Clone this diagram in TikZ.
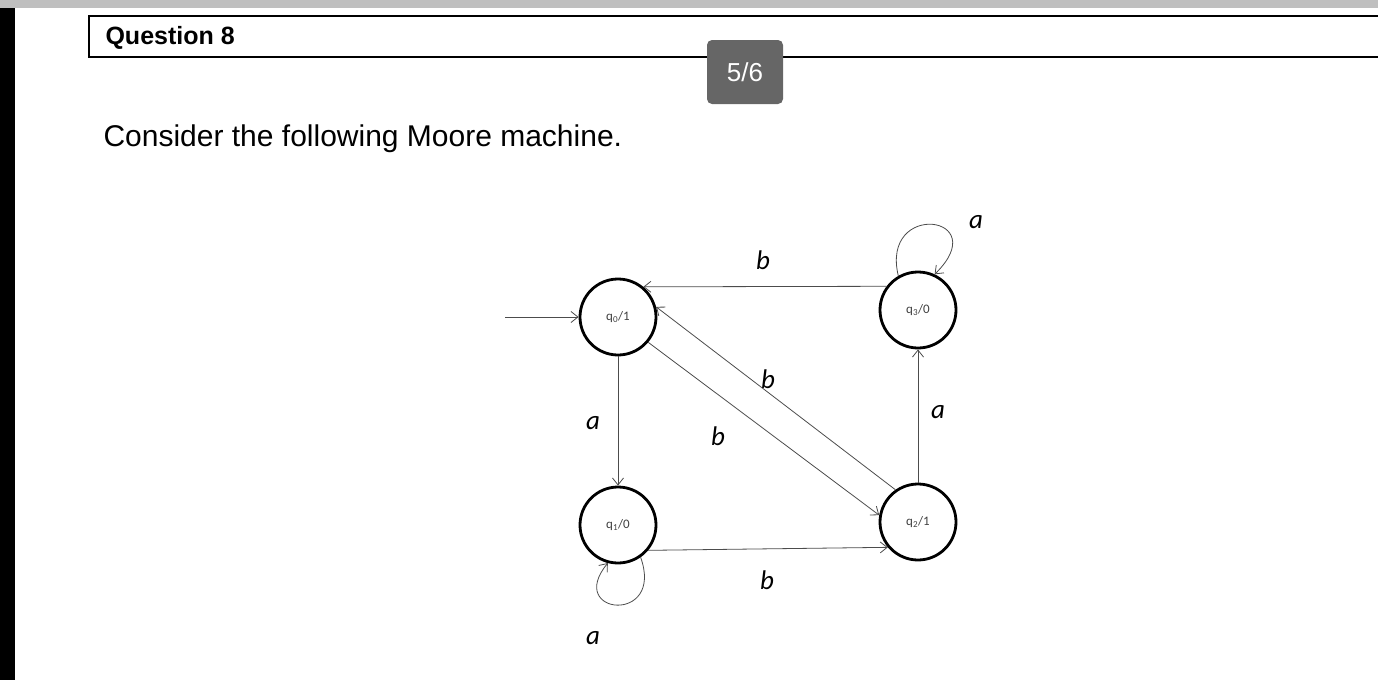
\documentclass[tikz,border=0pt]{standalone}
\usepackage{fontspec}
\setmainfont{Liberation Sans}
\newfontfamily\lbl{Carlito}
\usetikzlibrary{arrows.meta}
\begin{document}
\begin{tikzpicture}[x=1pt,y=-1pt,
 st/.style={circle,draw,line width=2.8pt,minimum size=76pt,inner sep=0pt,font=\fontsize{13}{15}\selectfont\lbl,text=black!75},
 ed/.style={draw=black!70,line width=0.8pt,-{Straight Barb[length=7pt,width=11pt]}},
 lb/.style={font=\fontsize{27}{30}\selectfont\lbl\itshape}]
\useasboundingbox (0,0) rectangle (1378,680);
\fill[black!25] (0,0) rectangle (1378,8);
\fill[black] (0,8) rectangle (15,680);
\draw[line width=1.2pt] (1380,16) -- (89,16) -- (89,57) -- (1380,57);
\node[anchor=west,font=\fontsize{25}{28}\selectfont\bfseries] (title) at (102,38) {Question 8};
\node[fill=black!60,rounded corners=5pt,minimum width=76pt,minimum height=64pt,text=white,font=\fontsize{26}{30}\selectfont] (badge) at (745,72) {5/6};
\node[anchor=west,font=\fontsize{30}{34}\selectfont] (intro) at (100,139) {Consider the following Moore machine.};
\node[st] (q0) at (618,317) {q\textsubscript{0}/1};
\node[st] (q3) at (918,310) {q\textsubscript{3}/0};
\node[st] (q1) at (618,525) {q\textsubscript{1}/0};
\node[st] (q2) at (918,522) {q\textsubscript{2}/1};
\coordinate (init) at (505,317);
\draw[ed] (init) -- (q0);
\draw[ed] (q3.143) -- (q0.50);
\draw[ed] (q0) -- (q1);
\draw[ed] (q1.-40) -- (q2.-140);
\draw[ed] (q2) -- (q3);
\draw[ed] (q2.125) -- (q0.15);
\draw[ed] (q0.-40) -- (q2.170);
\draw[ed] (q3.120) .. controls (880,200) and (995,215) .. (q3.65);
\draw[ed] (q1.-55) .. controls (665,625) and (565,615) .. (q1.-105);
\node[lb] at (763,260) {b};
\node[lb] at (768,379) {b};
\node[lb] at (718,436) {b};
\node[lb] at (593,423) {a};
\node[lb] at (938,412) {a};
\node[lb] at (767,580) {b};
\node[lb] at (976,222) {a};
\node[lb] at (593,638) {a};
\end{tikzpicture}
\end{document}
